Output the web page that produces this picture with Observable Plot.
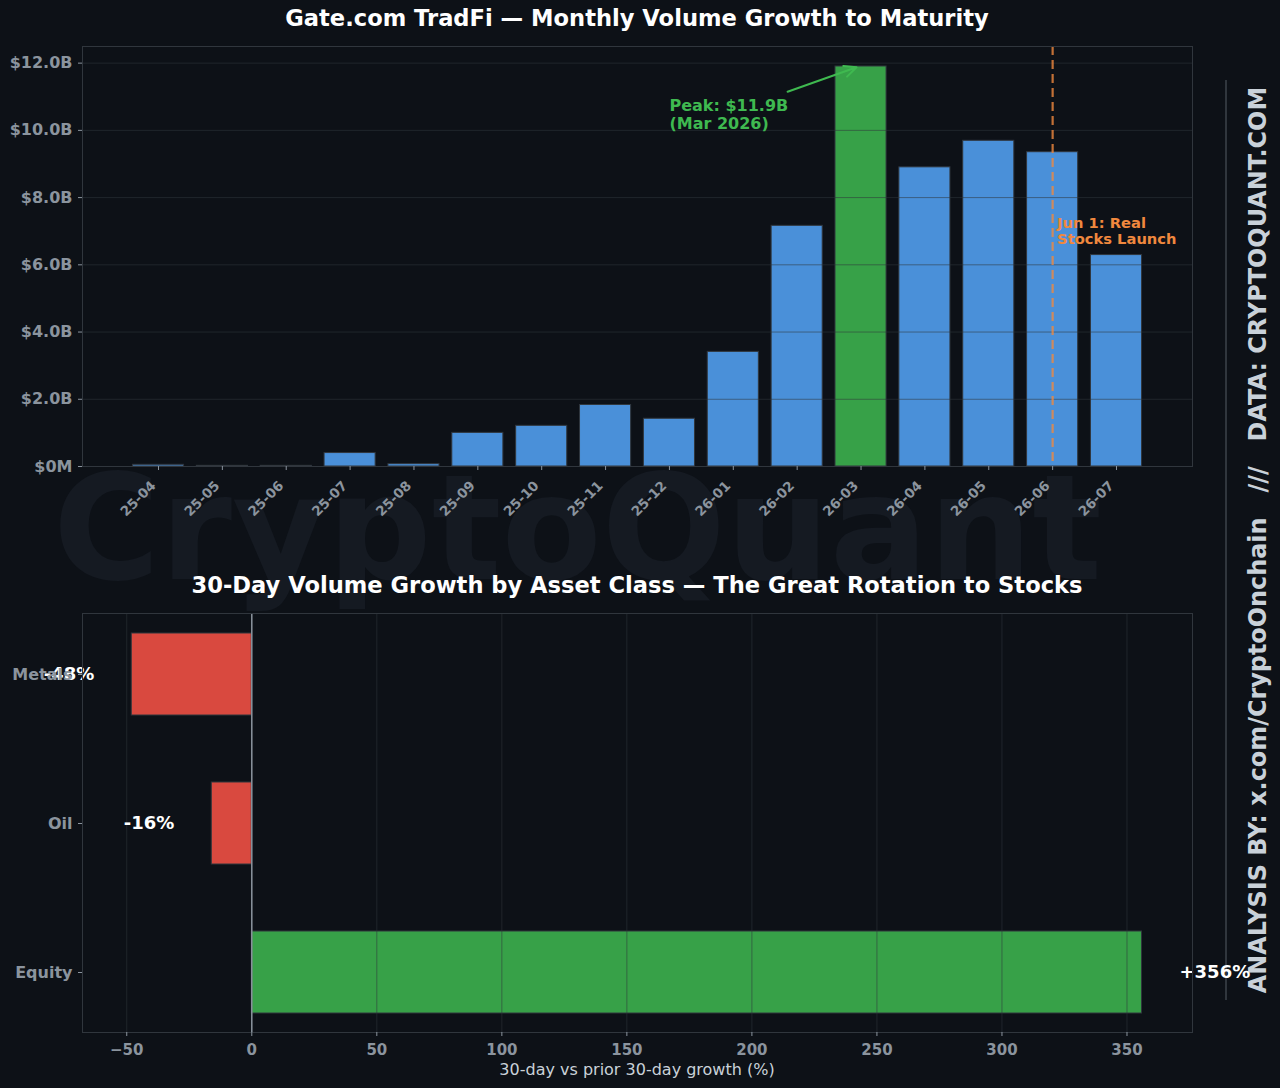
<!DOCTYPE html>
<html>
<head>
<meta charset="utf-8">
<script src="https://cdn.jsdelivr.net/npm/d3@7"></script>
<script src="https://cdn.jsdelivr.net/npm/@observablehq/plot@0.6"></script>
<style>
  html, body { margin: 0; padding: 0; background: #0d1117; }
  #page { position: relative; width: 1280px; height: 1088px; overflow: hidden; background: #0d1117; font-family: "DejaVu Sans", sans-serif; }
  .abs { position: absolute; }
  .title { position: absolute; left: 82px; width: 1110px; text-align: center; color: #ffffff; font-weight: bold; font-size: 22.6px; white-space: nowrap; line-height: 1.2; }
  #wm { left: 0; width: 1155px; text-align: center; top: 455px; font-size: 146px; font-weight: bold; color: #151a22; white-space: nowrap; line-height: 1; }
  #side { left: 1258px; top: 540px; width: 0; height: 0; }
  #side span { position: absolute; left: 0; top: 0; transform: translate(-50%, -50%) rotate(-90deg); white-space: pre; font-size: 23.9px; font-weight: bold; color: #c9d1d9; }
  #sideLine { left: 1225px; top: 80px; width: 1.5px; height: 920px; background: #30363d; }
  #xlabel { left: 82px; width: 1110px; text-align: center; top: 1060px; font-size: 16px; color: #c9d1d9; }
  svg { position: absolute; left: 0; }
</style>
</head>
<body>
<div id="page">
  <div id="wm" class="abs">CryptoQuant</div>
  <div id="sideLine" class="abs"></div>
  <div id="side" class="abs"><span>ANALYSIS BY: x.com/CryptoOnchain   ///   DATA: CRYPTOQUANT.COM</span></div>
  <div class="title" style="top:5px">Gate.com TradFi — Monthly Volume Growth to Maturity</div>
  <div class="title" style="top:572px">30-Day Volume Growth by Asset Class — The Great Rotation to Stocks</div>
  <div id="topChart"></div>
  <div id="bottomChart"></div>
  <div id="xlabel" class="abs">30-day vs prior 30-day growth (%)</div>
</div>
<script>
// ---- Data ----
const months = ["25-04","25-05","25-06","25-07","25-08","25-09","25-10","25-11","25-12","26-01","26-02","26-03","26-04","26-05","26-06","26-07"];
const volumesB = [0.05, 0.02, 0.02, 0.40, 0.07, 1.00, 1.21, 1.83, 1.42, 3.41, 7.16, 11.90, 8.90, 9.69, 9.35, 6.29];
const volTicks = [0, 2, 4, 6, 8, 10, 12];
const volTickLabels = ["$0M", "$2.0B", "$4.0B", "$6.0B", "$8.0B", "$10.0B", "$12.0B"];
const launchMonth = "26-06";
const peakLabel = "Peak: $11.9B\n(Mar 2026)";
const launchLabel = "Jun 1: Real\nStocks Launch";

const assetClasses = ["Metals", "Oil", "Equity"];
const growthPct = [-48, -16, 356];
const growthTicks = [-50, 0, 50, 100, 150, 200, 250, 300, 350];

// ---- Colors ----
const BLUE = "#4a90d9", GREEN = "#37a148", RED = "#d9493f";
const TXT_GREEN = "#3fb950", ORANGE = "#f0883e";
const GRID = "#30363d", TICK = "#8b949e";
const FONT = "DejaVu Sans";

// ---- Top chart ----
const peakIdx = volumesB.indexOf(d3.max(volumesB));
const launchIdx = months.indexOf(launchMonth);
const monthData = months.map((m, i) => ({i, month: m, vol: volumesB[i], peak: i === peakIdx}));
const nMonths = months.length;

const topPlot = Plot.plot({
  width: 1280, height: 490,
  marginTop: 6, marginBottom: 64, marginLeft: 82, marginRight: 88,
  style: {background: "transparent", color: TICK, fontFamily: FONT, overflow: "visible"},
  x: {type: "linear", domain: [-1.19, nMonths - 1 + 1.19]},
  y: {domain: [0, d3.max(volumesB) * 1.05]},
  marks: [
    Plot.rectY(monthData, {x1: d => d.i - 0.4, x2: d => d.i + 0.4, y1: 0, y2: "vol",
      fill: d => d.peak ? GREEN : BLUE, stroke: GRID, strokeWidth: 1}),
    Plot.gridY(volTicks, {stroke: GRID, strokeOpacity: 0.55, strokeWidth: 1}),
    Plot.ruleX([launchIdx], {stroke: ORANGE, strokeOpacity: 0.8, strokeWidth: 2.2, strokeDasharray: "9,5"}),
    Plot.arrow([{x1: peakIdx - 1.15, y1: volumesB[peakIdx] * 0.937, x2: peakIdx - 0.07, y2: volumesB[peakIdx] * 0.998}], {
      x1: "x1", y1: "y1", x2: "x2", y2: "y2", stroke: TXT_GREEN, strokeWidth: 2, headLength: 10, headAngle: 50}),
    Plot.text([peakLabel], {x: peakIdx - 3, y: 10.05, text: d => d, textAnchor: "start", lineAnchor: "bottom",
      fill: TXT_GREEN, fontWeight: "bold", fontSize: 16, lineHeight: 1.1}),
    Plot.text([launchLabel], {x: launchIdx + 0.07, y: 7.45, text: d => d, textAnchor: "start", lineAnchor: "top",
      fill: ORANGE, fontWeight: "bold", fontSize: 14.7, lineHeight: 1.12}),
    Plot.frame({stroke: GRID, strokeWidth: 1}),
    Plot.axisY(volTicks, {tickFormat: d => volTickLabels[volTicks.indexOf(d)], tickSize: 4, tickPadding: 6,
      fontSize: 16, fontWeight: "bold", fill: TICK, stroke: TICK, label: null}),
    // tick marks
    Plot.axisX(d3.range(nMonths), {tickFormat: () => "", tickSize: 4, stroke: TICK, label: null}),
    // rotated tick labels
    Plot.axisX(d3.range(nMonths), {tickFormat: i => months[i], tickRotate: -45, tickSize: 0, tickPadding: 17, dx: -5,
      fontSize: 13.5, fontWeight: "bold", fill: TICK, label: null})
  ]
});
topPlot.style.top = "40px";
document.getElementById("topChart").appendChild(topPlot);

// ---- Bottom chart ----
const growthData = assetClasses.map((a, i) => ({asset: a, g: growthPct[i]}));
const gMin = d3.min(growthPct), gMax = d3.max(growthPct), gPad = (gMax - gMin) * 0.05;
const fmtPct = v => (v > 0 ? "+" : "") + v + "%";

const bottomPlot = Plot.plot({
  width: 1280, height: 488,
  marginTop: 13, marginBottom: 56, marginLeft: 82, marginRight: 88,
  style: {background: "transparent", color: TICK, fontFamily: FONT, overflow: "visible"},
  x: {domain: [gMin - gPad + 0.5, gMax + gPad]},
  y: {domain: assetClasses, paddingInner: 0.453, paddingOuter: 0.127},
  marks: [
    Plot.barX(growthData, {x1: 0, x2: "g", y: "asset", fill: d => d.g < 0 ? RED : GREEN, stroke: GRID, strokeWidth: 1}),
    Plot.gridX(growthTicks, {stroke: GRID, strokeOpacity: 0.55, strokeWidth: 1}),
    Plot.ruleX([0], {stroke: TICK, strokeWidth: 1.5}),
    Plot.text(growthData.filter(d => d.g < 0), {x: d => d.g - 15, y: "asset", text: d => fmtPct(d.g),
      textAnchor: "end", fill: "#ffffff", fontWeight: "bold", fontSize: 18}),
    Plot.text(growthData.filter(d => d.g >= 0), {x: d => d.g + 15, y: "asset", text: d => fmtPct(d.g),
      textAnchor: "start", fill: "#ffffff", fontWeight: "bold", fontSize: 18}),
    Plot.frame({stroke: GRID, strokeWidth: 1}),
    Plot.axisX(growthTicks, {tickFormat: d => d < 0 ? "\u2212" + Math.abs(d) : String(d), tickSize: 4, tickPadding: 8,
      fontSize: 15, fontWeight: "bold", fill: TICK, stroke: TICK, label: null}),
    Plot.axisY(assetClasses, {tickSize: 4, tickPadding: 6, fontSize: 16, fontWeight: "bold", fill: TICK, stroke: TICK, label: null})
  ]
});
bottomPlot.style.top = "600px";
document.getElementById("bottomChart").appendChild(bottomPlot);
</script>
</body>
</html>
